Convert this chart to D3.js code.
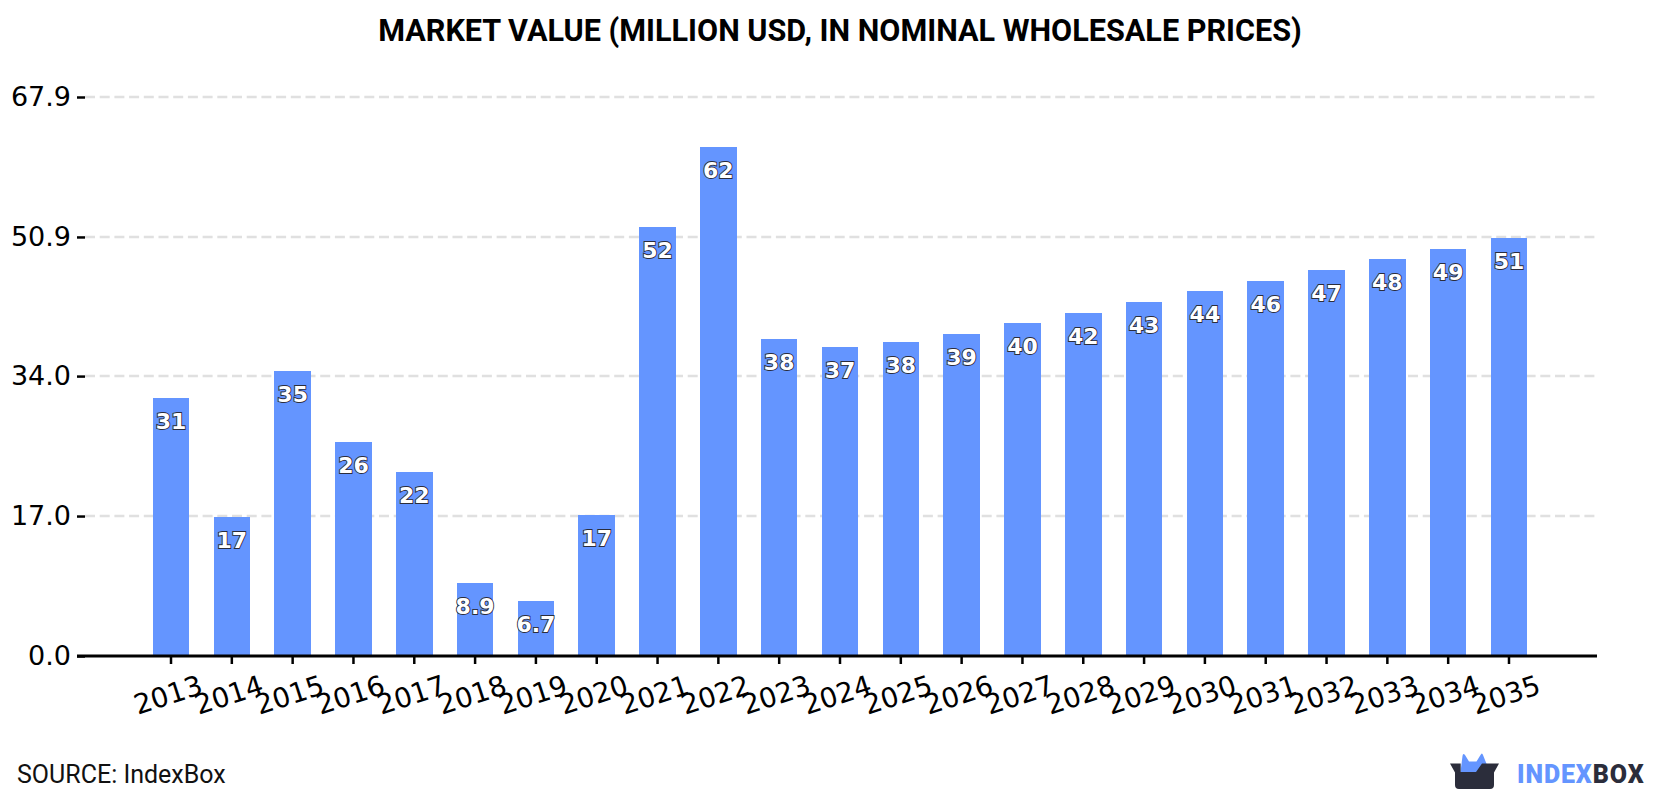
<!DOCTYPE html>
<html>
<head>
<meta charset="utf-8">
<script src="https://cdn.jsdelivr.net/npm/d3@7/dist/d3.min.js"></script>
<style>
  html, body { margin: 0; padding: 0; background: #fff; }
  svg { display: block; }
  .num { font-family: "DejaVu Sans", sans-serif; }
</style>
</head>
<body>
<div id="chart"></div>
<script>
// Market value by year, million USD
const years = ["2013","2014","2015","2016","2017","2018","2019","2020","2021","2022","2023","2024",
               "2025","2026","2027","2028","2029","2030","2031","2032","2033","2034","2035"];
const values = [31.3,16.9,34.6,26.0,22.3,8.9,6.7,17.1,52.1,61.8,38.45,37.49,
                38.1,39.1,40.4,41.7,43.0,44.3,45.5,46.9,48.2,49.4,50.8];
const yTicks = [0,17,34,50.9,67.9];
const titleText = "MARKET VALUE (MILLION USD, IN NOMINAL WHOLESALE PRICES)";
const sourceText = "SOURCE: IndexBox";

const width = 1680, height = 800;
const plot = { left: 85, right: 1597, top: 97, bottom: 656 };
const barColor = "#6495ff", inkColor = "#2b2d3b";

const svg = d3.select("#chart").append("svg").attr("width", width).attr("height", height);

const x = d3.scaleBand().domain(years).range([140.6, 1539.4]).paddingInner(0.4).paddingOuter(0.2);
const y = d3.scaleLinear().domain([0, 67.9]).range([plot.bottom, plot.top]);

svg.append("text").attr("x", 840).attr("y", 41).attr("text-anchor", "middle")
  .attr("font-family", "Roboto, sans-serif").attr("font-weight", 700).attr("font-size", 30.6)
  .attr("fill", "#000").text(titleText);

// Horizontal dashed grid behind the bars
svg.append("g").selectAll("line").data(yTicks.filter(d => d > 0)).join("line")
  .attr("x1", plot.left).attr("x2", plot.right)
  .attr("y1", d => y(d)).attr("y2", d => y(d))
  .attr("stroke", "#e0e0e0").attr("stroke-width", 2.5).attr("stroke-dasharray", "10,4.7");

svg.append("g").selectAll("rect").data(years).join("rect")
  .attr("x", d => x(d)).attr("width", x.bandwidth())
  .attr("y", (d, i) => y(values[i])).attr("height", (d, i) => y(0) - y(values[i]))
  .attr("fill", barColor).attr("shape-rendering", "crispEdges");

const valueLabel = v => v < 10 ? d3.format(".1f")(v) : d3.format(".0f")(v);
svg.append("g").selectAll("text").data(years).join("text")
  .attr("class", "num")
  .attr("x", d => x(d) + x.bandwidth() / 2)
  .attr("y", (d, i) => y(values[i]) + 31)
  .attr("text-anchor", "middle").attr("font-weight", 700).attr("font-size", 22)
  .attr("fill", "#fff").attr("stroke", "#2b2d3b").attr("stroke-width", 1.8)
  .attr("paint-order", "stroke")
  .text((d, i) => valueLabel(values[i]));

// Y axis: ticks and labels only, the baseline is drawn separately
const yAxis = svg.append("g").attr("transform", `translate(${plot.left},0)`)
  .call(d3.axisLeft(y).tickValues(yTicks).tickFormat(d3.format(".1f")).tickSize(8).tickPadding(6));
yAxis.select(".domain").remove();
yAxis.selectAll("line").attr("stroke", "#000").attr("stroke-width", 2.5);
yAxis.selectAll("text").attr("class", "num").attr("font-size", 27).attr("fill", "#000")
  .attr("font-family", '"DejaVu Sans", sans-serif');

const xAxis = svg.append("g").attr("transform", `translate(0,${plot.bottom})`)
  .call(d3.axisBottom(x).tickSize(8).tickPadding(0));
xAxis.select(".domain").remove();
xAxis.selectAll("line").attr("stroke", "#000").attr("stroke-width", 2.5);
xAxis.selectAll("text").attr("class", "num").attr("font-size", 27.5).attr("fill", "#000")
  .attr("font-family", '"DejaVu Sans", sans-serif')
  .attr("text-anchor", "middle").attr("dy", 0).attr("y", 0)
  .attr("transform", "translate(0,48) rotate(-18)");

svg.append("line").attr("x1", 77).attr("x2", plot.right)
  .attr("y1", plot.bottom).attr("y2", plot.bottom)
  .attr("stroke", "#000").attr("stroke-width", 3);

svg.append("text").attr("x", 17).attr("y", 783)
  .attr("font-family", "Roboto, sans-serif").attr("font-size", 25).attr("fill", "#111")
  .text(sourceText);

// Brand mark: an open box with a blue crown rising out of it
const logo = svg.append("g");
logo.append("path").attr("fill", barColor)
  .attr("d", "M1460.5,772 L1462.5,756 Q1463,752.5 1465,755 L1469,761.5 L1476.5,761.5 L1480.5,755 Q1482,752 1483,755 L1487,765 L1478,773 Z");
logo.append("path").attr("fill", inkColor)
  .attr("d", "M1450,763.5 L1460.7,763.5 L1460.7,772 L1476,772 L1482,763.5 L1499,763.5 L1494,772.5 L1494,785 Q1494,789 1490,789 L1459,789 Q1455,789 1455,785 L1455,772.5 Z");

const brand = svg.append("text").attr("x", 1517).attr("y", 783)
  .attr("font-family", "Roboto, sans-serif").attr("font-weight", 900).attr("font-size", 25)
  .attr("letter-spacing", 0.9);
brand.append("tspan").attr("fill", barColor).text("INDEX");
brand.append("tspan").attr("fill", inkColor).text("BOX");
</script>
</body>
</html>
